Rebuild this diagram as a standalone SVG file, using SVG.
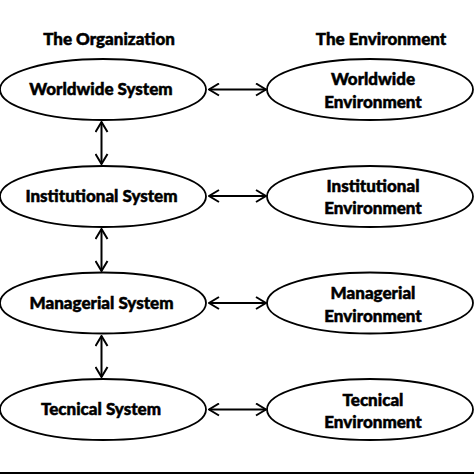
<svg xmlns="http://www.w3.org/2000/svg" width="474" height="474" viewBox="0 0 474 474">
<defs>
<marker id="ah" viewBox="0 0 12 14" refX="11" refY="7" markerWidth="12" markerHeight="14" markerUnits="userSpaceOnUse" orient="auto-start-reverse">
<path d="M1,1 L11,7 L1,13" fill="none" stroke="#000" stroke-width="2"/>
</marker>
<style>
.n{fill:#fff;stroke:#000;stroke-width:1.8}
.t{font-family:Lato,"Open Sans",sans-serif;font-weight:900;font-size:17px;fill:#000;stroke:#000;stroke-width:0.5;text-anchor:middle}
.c{stroke:#000;stroke-width:2;fill:none;marker-start:url(#ah);marker-end:url(#ah)}
</style>
</defs>
<rect width="474" height="474" fill="#fff"/>
<g id="headers">
<text class="t" x="109" y="45">The Organization</text>
<text class="t" x="381" y="45">The Environment</text>
</g>
<g id="connectors">
<line class="c" x1="209" y1="89.5" x2="266" y2="89.5"/>
<line class="c" x1="209" y1="196" x2="266" y2="196"/>
<line class="c" x1="209" y1="303" x2="266" y2="303"/>
<line class="c" x1="209" y1="409.5" x2="266" y2="409.5"/>
<line class="c" x1="101.5" y1="122" x2="101.5" y2="164"/>
<line class="c" x1="101.5" y1="229" x2="101.5" y2="271"/>
<line class="c" x1="101.5" y1="336" x2="101.5" y2="377"/>
</g>
<g id="worldwide-system">
<ellipse class="n" cx="103" cy="89.5" rx="103" ry="30.5"/>
<text class="t" x="101" y="95">Worldwide System</text>
</g>
<g id="institutional-system">
<ellipse class="n" cx="103" cy="196.5" rx="103" ry="30.5"/>
<text class="t" x="101.5" y="202">Institutional System</text>
</g>
<g id="managerial-system">
<ellipse class="n" cx="103" cy="303" rx="103" ry="30.5"/>
<text class="t" x="101.5" y="308.5">Managerial System</text>
</g>
<g id="tecnical-system">
<ellipse class="n" cx="103" cy="409.5" rx="103" ry="30.5"/>
<text class="t" x="101" y="415">Tecnical System</text>
</g>
<g id="worldwide-environment">
<ellipse class="n" cx="370" cy="89.5" rx="103" ry="30.5"/>
<text class="t" x="373" y="85.3">Worldwide</text>
<text class="t" x="373" y="107.5">Environment</text>
</g>
<g id="institutional-environment">
<ellipse class="n" cx="370" cy="196.5" rx="103" ry="30.5"/>
<text class="t" x="373" y="192">Institutional</text>
<text class="t" x="373" y="214.3">Environment</text>
</g>
<g id="managerial-environment">
<ellipse class="n" cx="370" cy="303" rx="103" ry="30.5"/>
<text class="t" x="373" y="299">Managerial</text>
<text class="t" x="373" y="321.5">Environment</text>
</g>
<g id="tecnical-environment">
<ellipse class="n" cx="370" cy="409.5" rx="103" ry="30.5"/>
<text class="t" x="373" y="405.5">Tecnical</text>
<text class="t" x="373" y="428">Environment</text>
</g>
<rect x="0" y="472" width="474" height="2" fill="#000"/>
</svg>
